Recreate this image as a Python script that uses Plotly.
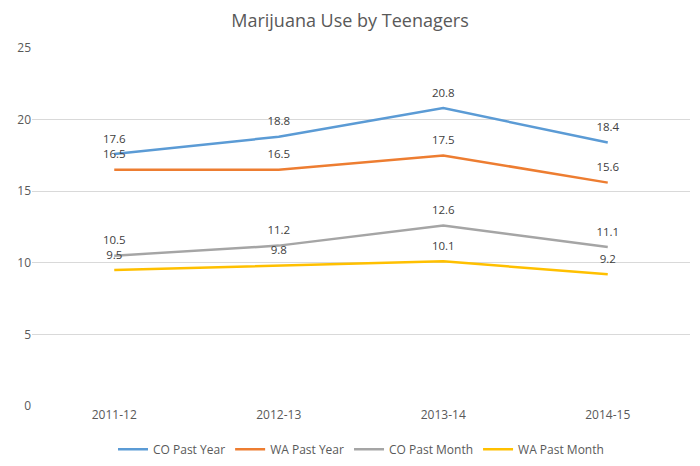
import plotly.graph_objects as go

categories = ["2011-12", "2012-13", "2013-14", "2014-15"]
series_names = ["CO Past Year", "WA Past Year", "CO Past Month", "WA Past Month"]
co_past_year = [17.6, 18.8, 20.8, 18.4]
wa_past_year = [16.5, 16.5, 17.5, 15.6]
co_past_month = [10.5, 11.2, 12.6, 11.1]
wa_past_month = [9.5, 9.8, 10.1, 9.2]
colors = ["#5B9BD5", "#ED7D31", "#A5A5A5", "#FFC000"]
y_ticks = [0, 5, 10, 15, 20, 25]

fig = go.Figure()
all_vals = [co_past_year, wa_past_year, co_past_month, wa_past_month]
for name, vals, col in zip(series_names, all_vals, colors):
    fig.add_trace(go.Scatter(
        x=categories, y=vals, name=name, mode="lines",
        line=dict(color=col, width=2.5),
    ))
for name, vals, col in zip(series_names, all_vals, colors):
    fig.add_trace(go.Scatter(
        x=categories, y=vals, name=name, mode="markers+text", showlegend=False,
        marker=dict(size=12, opacity=0, color=col),
        text=[f"{v:g}" for v in vals], textposition="top center",
        textfont=dict(size=11.5, color="#404040", family="Open Sans"),
        cliponaxis=False, hoverinfo="skip",
    ))

fig.update_layout(
    width=700, height=466,
    margin=dict(l=32, r=10, t=48, b=60, autoexpand=False),
    paper_bgcolor="white", plot_bgcolor="white",
    title=dict(text="Marijuana Use by Teenagers", x=0.5, xanchor="center",
               y=0.955, yanchor="middle",
               font=dict(size=18, color="#595959", family="Open Sans")),
    font=dict(family="Open Sans", size=12, color="#595959"),
    xaxis=dict(type="category", range=[-0.5, 3.5], showgrid=False,
               showline=False, ticks="", tickfont=dict(size=12, color="#595959")),
    yaxis=dict(range=[0, 25], tickvals=y_ticks, gridcolor="#D9D9D9", gridwidth=1,
               zeroline=False, showline=False, ticks="",
               tickfont=dict(size=12, color="#595959")),
    legend=dict(orientation="h", x=0.5, xanchor="center",
                yref="container", y=0.036, yanchor="middle",
                font=dict(size=12, color="#595959"), itemwidth=30,
                tracegroupgap=0),
)
fig.write_html("out.html")
